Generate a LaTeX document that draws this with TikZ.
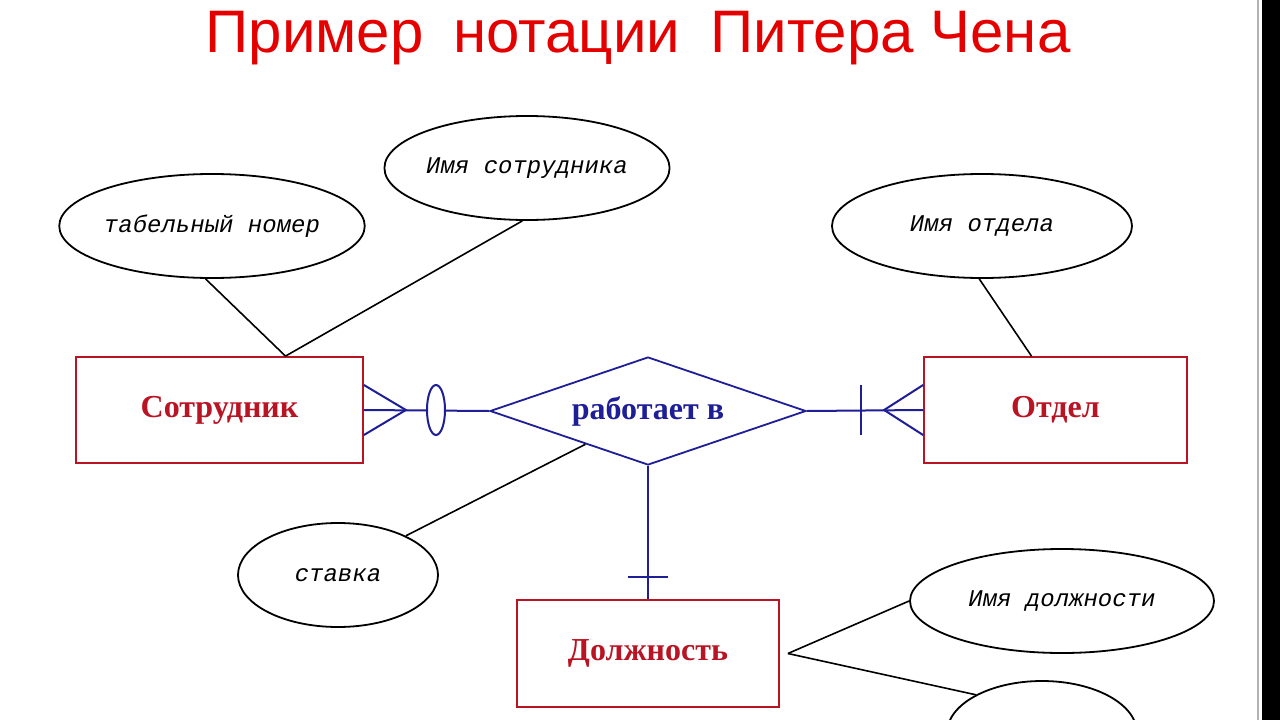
\documentclass[tikz,border=0pt]{standalone}
\usepackage{fontspec}
\setmainfont{Liberation Serif}
\newfontfamily\titlefont{Liberation Sans}
\newfontfamily\attrfont{Liberation Mono}
\usetikzlibrary{shapes.geometric}
\definecolor{ent}{RGB}{185,20,35}
\definecolor{rel}{RGB}{30,30,150}
\begin{document}
\begin{tikzpicture}[x=1pt,y=-1pt,
  attr/.style={draw=black,line width=1.8pt,ellipse,inner sep=0pt,font=\attrfont\itshape\fontsize{24}{26}\selectfont},
  entity/.style={draw=ent,line width=1.8pt,rectangle,inner sep=0pt,text=ent,font=\bfseries\fontsize{32}{34}\selectfont},
  link/.style={black,line width=1.6pt},
  rlink/.style={rel,line width=2pt}]
\useasboundingbox (0,0) rectangle (1280,720);
\clip (0,0) rectangle (1280,720);
\fill[white] (0,0) rectangle (1280,720);
\fill[black] (1262,0) rectangle (1280,720);
\draw[gray!60,line width=2pt] (1258,0) -- (1258,720);
\node[text=red!90!black,font=\titlefont\fontsize{60}{62}\selectfont,anchor=base] (title) at (638,52) {Пример\enspace нотации\enspace Питера Чена};
% attributes
\node[attr,minimum width=300,minimum height=104] (tn) at (212,226) {табельный номер};
\node[attr,minimum width=282,minimum height=104] (is) at (527,168) {Имя сотрудника};
\node[attr,minimum width=300,minimum height=104] (io) at (982,226) {Имя отдела};
\node[attr,minimum width=200,minimum height=104] (st) at (338,575) {ставка};
\node[attr,minimum width=304,minimum height=104] (id) at (1062,601) {Имя должности};
\node[attr,minimum width=190,minimum height=104] (ex) at (1042,733) {};
% entities
\node[entity,minimum width=287,minimum height=106] (emp) at (219.5,410) {Сотрудник};
\node[entity,minimum width=263,minimum height=106] (dep) at (1055.5,410) {Отдел};
\node[entity,minimum width=262,minimum height=107] (pos) at (648,653.5) {Должность};
% relationship
\node[draw=rel,line width=1.8pt,diamond,aspect=2.93,minimum width=316,minimum height=108,inner sep=0pt,text=rel,font=\bfseries\fontsize{32}{34}\selectfont] (wk) at (648,411) {работает в};
% attribute links
\coordinate (empt) at ([xshift=66]emp.north);
\draw[link] (tn.-97) -- (empt);
\draw[link] (is.-95) -- (empt);
\draw[link] (io.-93) -- ([xshift=-24]dep.north);
\draw[link] (st.30) -- (wk.-152);
\coordinate (pv) at ([xshift=8]pos.east);
\draw[link] (pv) -- (id.west);
\draw[link] (pv) -- (ex.150);
% relationship links
\draw[rlink] (emp.east) -- (wk.west);
\draw[rlink] ([yshift=-25]emp.east) -- ([xshift=42]emp.east) -- ([yshift=25]emp.east);
\draw[rlink,fill=white] (436,410) ellipse (9 and 25);
\draw[rlink] (wk.east) -- (dep.west);
\draw[rlink] ([yshift=-25]dep.west) -- ([xshift=-39]dep.west) -- ([yshift=25]dep.west);
\draw[rlink] ([xshift=-62,yshift=-25]dep.west) -- ([xshift=-62,yshift=25]dep.west);
\draw[rlink] (wk.south) -- (pos.north);
\draw[rlink] ([xshift=-20,yshift=22]pos.north) -- ([xshift=20,yshift=22]pos.north);
\end{tikzpicture}
\end{document}
